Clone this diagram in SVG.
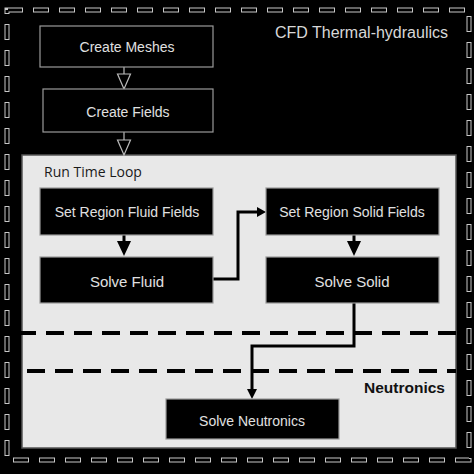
<svg xmlns="http://www.w3.org/2000/svg" width="474" height="474" viewBox="0 0 474 474">
  <style>
    .box { fill: #000; stroke: #9a9a9a; stroke-width: 1.2; }
    .lbl { font-family: "Liberation Sans", Arial, sans-serif; font-size: 14px; fill: #e0e0e0; text-anchor: middle; dominant-baseline: central; }
    .big { font-size: 15px; }
    .wire { fill: none; stroke: #000; stroke-width: 3; }
    .sep { fill: none; stroke: #000; stroke-width: 4; stroke-dasharray: 18 10; }
  </style>
  <defs>
    <marker id="solid" viewBox="0 0 10 10" refX="10" refY="5" markerWidth="4" markerHeight="4" orient="auto" markerUnits="strokeWidth">
      <path d="M0,0 L10,5 L0,10 Z" fill="#000"/>
    </marker>
  </defs>

  <!-- background -->
  <rect x="0" y="0" width="474" height="474" fill="#000"/>

  <!-- outer CFD region: hollow dashed frame -->
  <g id="cfd-frame">
    <rect x="7" y="10" width="462" height="450" fill="none" stroke="#c8c8c8" stroke-width="5" stroke-dasharray="16 10"/>
    <rect x="7" y="10" width="462" height="450" fill="none" stroke="#000" stroke-width="3" stroke-dasharray="14 12" stroke-dashoffset="-1"/>
    <text x="448" y="32" font-family="Liberation Sans, Arial, sans-serif" font-size="16" fill="#d8d8d8" text-anchor="end" dominant-baseline="central">CFD Thermal-hydraulics</text>
  </g>

  <!-- run time loop panel -->
  <g id="run-time-loop">
    <rect x="22" y="155" width="434" height="293" fill="#e8e8e8" stroke="#555" stroke-width="1.5"/>
    <text x="44" y="177" font-family="Open Sans, sans-serif" font-size="14" fill="#1a1a1a">Run Time Loop</text>
  </g>

  <!-- region separators -->
  <g id="separators">
    <path class="sep" d="M18,333 H456"/>
    <path class="sep" d="M27,371 H456"/>
    <text x="445" y="393" font-family="Liberation Sans, Arial, sans-serif" font-size="15.5" font-weight="bold" fill="#111" text-anchor="end">Neutronics</text>
  </g>

  <!-- connectors -->
  <g id="connectors">
    <!-- setup chain: open triangle heads -->
    <path d="M124,67 V74" stroke="#bbb" stroke-width="1.2" fill="none"/>
    <path d="M117.5,74 L130.5,74 L124,89 Z" fill="#000" stroke="#bbb" stroke-width="1.2"/>
    <path d="M124,132 V140" stroke="#bbb" stroke-width="1.2" fill="none"/>
    <path d="M117.5,140 L130.5,140 L124,155 Z" fill="#000" stroke="#bbb" stroke-width="1.2"/>
    <!-- loop arrows -->
    <path d="M124,235 V242" class="wire"/>
    <path d="M117,241 L131,241 L124,256 Z" fill="#000"/>
    <path d="M354,235 V242" class="wire"/>
    <path d="M347,241 L361,241 L354,256 Z" fill="#000"/>
    <path d="M213,279 H238 V212 H258" class="wire"/>
    <path d="M257,207 L266,212 L257,217 Z" fill="#000"/>
    <path d="M354,303 V346 H252 V390" class="wire"/>
    <path d="M247,389 L257,389 L252,399 Z" fill="#000"/>
  </g>

  <!-- nodes -->
  <g id="create-meshes">
    <rect class="box" x="40" y="26" width="173" height="41" stroke="#cfcfcf"/>
    <text class="lbl" x="127" y="47">Create Meshes</text>
  </g>
  <g id="create-fields">
    <rect class="box" x="43" y="89" width="170" height="43" stroke="#cfcfcf"/>
    <text class="lbl" x="128" y="112">Create Fields</text>
  </g>
  <g id="set-region-fluid-fields">
    <rect class="box" x="40" y="188" width="173" height="47"/>
    <text class="lbl" x="127" y="212">Set Region Fluid Fields</text>
  </g>
  <g id="solve-fluid">
    <rect class="box" x="40" y="257" width="173" height="46"/>
    <text class="lbl big" x="127" y="281">Solve Fluid</text>
  </g>
  <g id="set-region-solid-fields">
    <rect class="box" x="266" y="188" width="173" height="47"/>
    <text class="lbl" x="352" y="212">Set Region Solid Fields</text>
  </g>
  <g id="solve-solid">
    <rect class="box" x="266" y="257" width="173" height="46"/>
    <text class="lbl big" x="352" y="281">Solve Solid</text>
  </g>
  <g id="solve-neutronics">
    <rect class="box" x="166" y="399" width="173" height="40"/>
    <text class="lbl" x="252" y="421">Solve Neutronics</text>
  </g>
</svg>
